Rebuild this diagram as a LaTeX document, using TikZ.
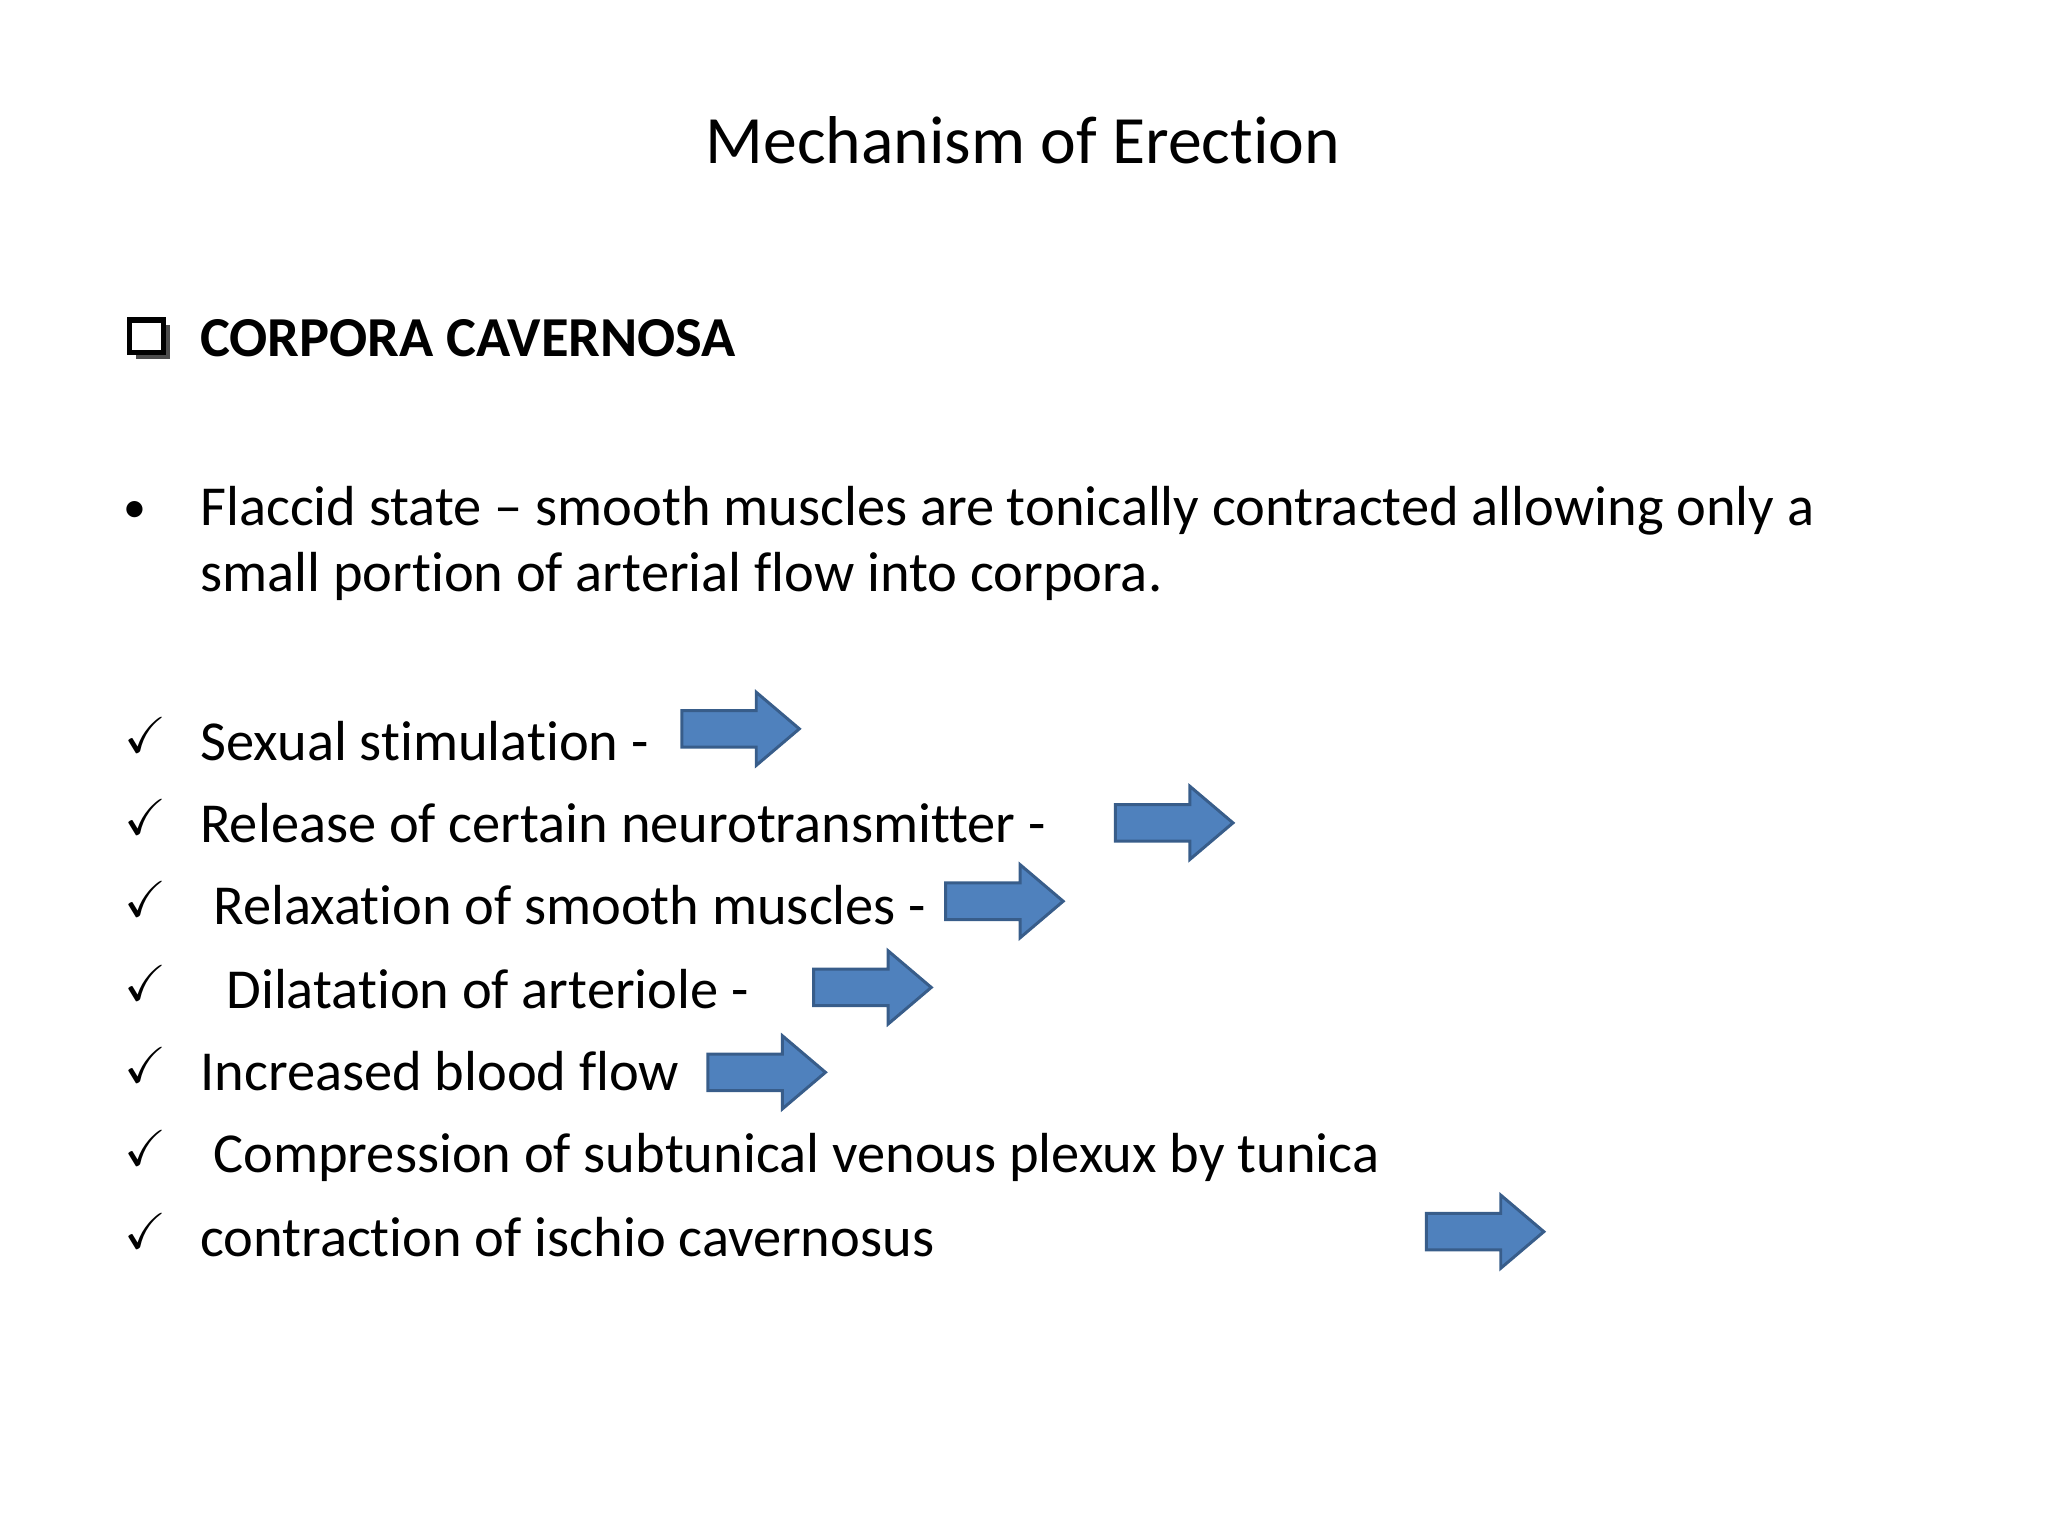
\documentclass[tikz,border=0pt]{standalone}
\usepackage{fontspec}
\usepackage{amssymb}
\setmainfont[Ligatures=NoCommon]{Carlito}
\begin{document}
\begin{tikzpicture}[x=0.02cm,y=-0.02cm,
  txt/.style={anchor=base west,inner sep=0pt,font=\fontsize{24.6}{29}\selectfont},
  chk/.style={anchor=base west,inner sep=0pt,font=\fontsize{22}{26}\selectfont}]
\useasboundingbox (0,0) rectangle (1568,1176);
\definecolor{af}{HTML}{4F81BD}\definecolor{ad}{HTML}{385D8A}
\tikzset{blk/.style={fill=af,draw=ad,line width=1.3pt,line join=miter}}
\newcommand{\blkarrow}[2]{\draw[blk] (#1,#2-14) -- (#1+57,#2-14) -- (#1+57,#2-28) -- (#1+90,#2) -- (#1+57,#2+28) -- (#1+57,#2+14) -- (#1,#2+14) -- cycle;}
\node[anchor=base,inner sep=0pt,font=\fontsize{29.5}{34}\selectfont] (title) at (783,125) {Mechanism of Erection};
\fill[black!70] (104,249) rectangle (130,275);
\draw[line width=2.2pt,fill=white] (99,245) rectangle (125,270);
\node[txt,font=\fontsize{24.6}{29}\selectfont\bfseries] (cc) at (153,273) {CORPORA CAVERNOSA};
\node[txt,font=\fontsize{20}{24}\selectfont] (bul) at (94,400) {•};
\node[txt] (f1) at (153,402) {Flaccid state – smooth muscles are tonically contracted allowing only a};
\node[txt] (f2) at (153,453) {small portion of arterial flow into corpora.};
\foreach \y/\x/\t [count=\i] in {
 582/153/{Sexual stimulation -},
 645/153/{Release of certain neurotransmitter -},
 708/163/{Relaxation of smooth muscles -},
 772/173/{Dilatation of arteriole -},
 835/153/{Increased blood flow},
 898/163/{Compression of subtunical venous plexux by tunica},
 962/153/{contraction of ischio cavernosus}}{
  \node[chk] (c\i) at (95,\y-6) {$\checkmark$};
  \node[txt] (t\i) at (\x,\y) {\t};
}
\blkarrow{522}{558}
\blkarrow{854}{630}
\blkarrow{724}{690}
\blkarrow{623}{756}
\blkarrow{542}{821}
\blkarrow{1092}{943}
\end{tikzpicture}
\end{document}
